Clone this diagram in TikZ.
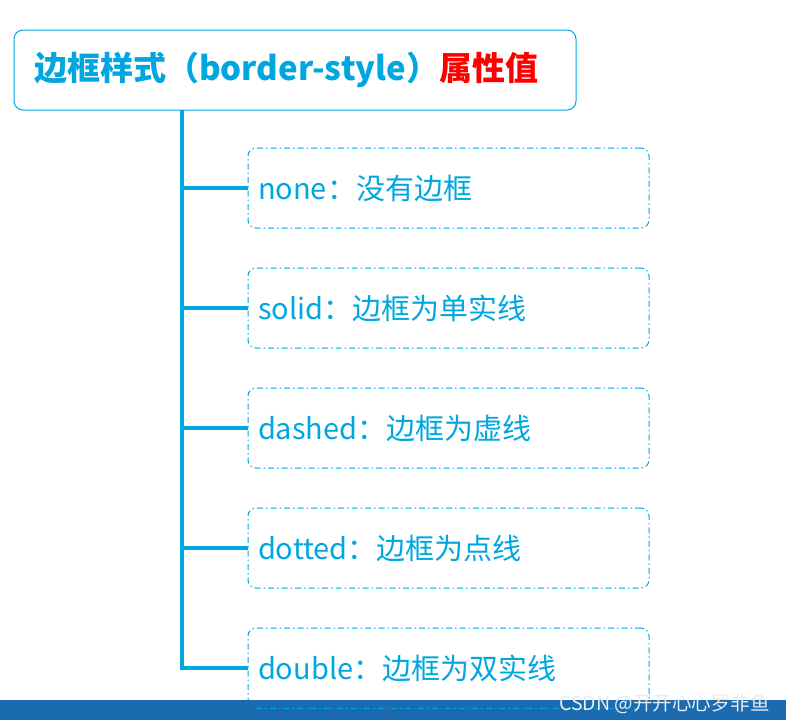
\documentclass[tikz,border=0pt]{standalone}
\usepackage{fontspec}
\setmainfont{Noto Sans CJK SC}
\definecolor{cy}{HTML}{00A6E0}
\definecolor{bar}{HTML}{1A6BB0}
\begin{document}
\begin{tikzpicture}[x=1pt,y=-1pt,
  item/.style={draw=cy,line width=1pt,dash pattern=on 6pt off 3pt on 1.5pt off 3pt,rounded corners=8pt,minimum width=401pt,minimum height=80pt,text width=381pt,align=left,inner sep=0pt,text=cy,font=\fontsize{29}{32}\selectfont},
  br/.style={draw=cy,line width=3.5pt}]
\useasboundingbox (0,0) rectangle (786,723);
\node[draw=cy,line width=1pt,rounded corners=9pt,minimum width=562pt,minimum height=80pt,text width=522pt,inner sep=0pt,align=left,font=\fontsize{33}{36}\selectfont\bfseries] (t) at (295,70) {\textcolor{cy}{边框样式（border-style）}\textcolor{red}{属性值}};
\coordinate (top) at (182,110);
\coordinate (bot) at (182,670);
\draw[br] (top) -- (bot);
\foreach \i/\y/\txt in {1/188/none：没有边框,2/308/solid：边框为单实线,3/428/dashed：边框为虚线,4/548/dotted：边框为点线,5/668/double：边框为双实线}{
  \node[item] (n\i) at (448.5,\y) {\txt};
  \coordinate (j\i) at (182,\y);
  \draw[br] (j\i) -- (n\i.west);
}
\fill[bar] (0,700) rectangle (786,720);
\draw[cy,line width=1pt,dash pattern=on 6pt off 3pt on 1.5pt off 3pt] (256,708) -- (641,708);
\node[anchor=east,text=white!85!gray,font=\fontsize{19.5}{20}\selectfont,inner sep=0pt] (wm) at (770,704) {CSDN @开开心心罗非鱼};
\end{tikzpicture}
\end{document}
